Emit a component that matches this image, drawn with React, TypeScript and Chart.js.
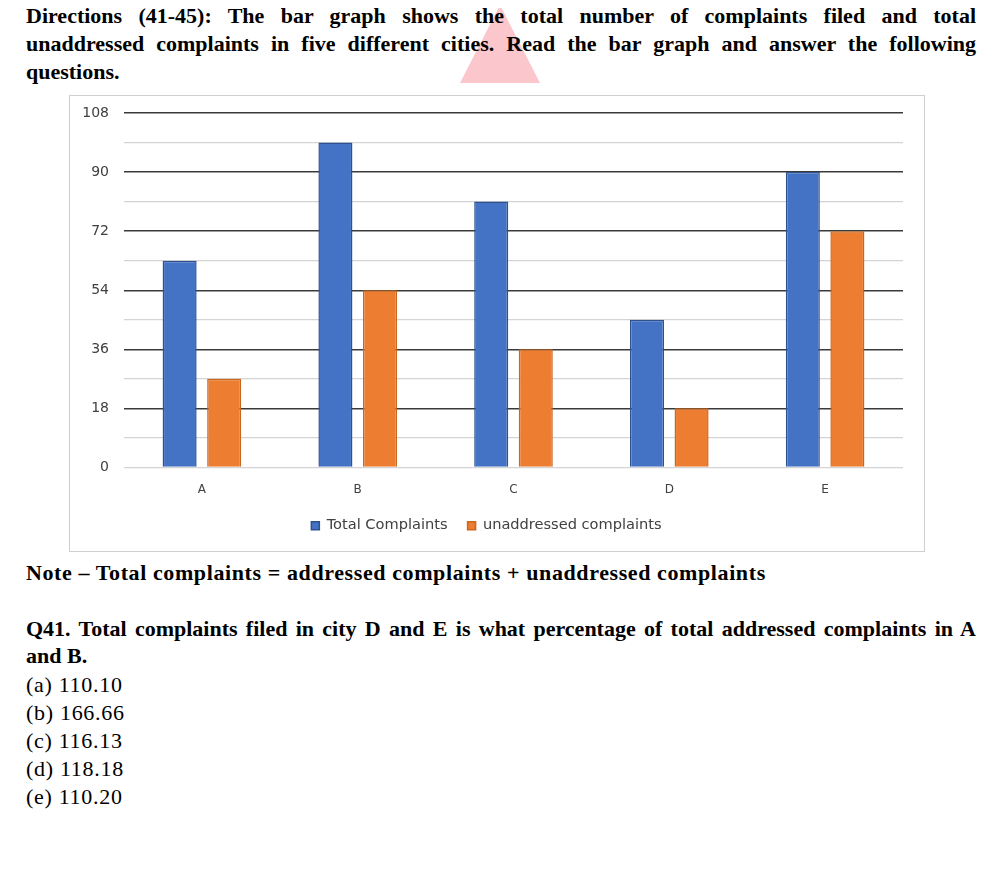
import React, { useEffect, useRef } from "react";
import { Chart, registerables } from "chart.js";

Chart.register(...registerables);

const categories = ["A", "B", "C", "D", "E"];
const totalComplaints = [63, 99, 81, 45, 90];
const unaddressedComplaints = [27, 54, 36, 18, 72];
const yTickLabels = [0, 18, 36, 54, 72, 90, 108];

const headLines = [
  "Directions (41-45): The bar graph shows the total number of complaints filed and total",
  "unaddressed complaints in five different cities. Read the bar graph and answer the following",
  "questions.",
];
const noteLine = "Note \u2013 Total complaints = addressed complaints + unaddressed complaints";
const qLines = [
  "Q41. Total complaints filed in city D and E is what percentage of total addressed complaints in A",
  "and B.",
];
const options = ["(a) 110.10", "(b) 166.66", "(c) 116.13", "(d) 118.18", "(e) 110.20"];

const serif = "'Liberation Serif', 'Times New Roman', serif";

function Line(props: {
  text: string;
  cy: number;
  justify?: boolean;
  bold?: boolean;
  size?: number;
  spacing?: number;
}) {
  const { text, cy, justify, bold = true, size = 22, spacing = 0 } = props;
  return (
    <div
      style={{
        position: "absolute",
        left: 18,
        width: 950,
        top: cy - 14 - 8,
        height: 28,
        lineHeight: "28px",
        fontFamily: serif,
        fontWeight: bold ? 700 : 400,
        fontSize: size,
        letterSpacing: spacing,
        color: "#000",
        whiteSpace: "nowrap",
        textAlign: justify ? "justify" : "left",
        textAlignLast: justify ? "justify" : "left",
      } as React.CSSProperties}
    >
      {text}
    </div>
  );
}

export default function App() {
  const ref = useRef<HTMLCanvasElement | null>(null);

  useEffect(() => {
    if (!ref.current) return;
    const chart = new Chart(ref.current, {
      type: "bar",
      data: {
        labels: categories,
        datasets: [
          {
            label: "Total Complaints",
            data: totalComplaints,
            backgroundColor: "#4472C4",
            borderColor: "#2F528F",
            borderWidth: 1.5,
            categoryPercentage: 0.572,
            barPercentage: 0.764,
          },
          {
            label: "unaddressed complaints",
            data: unaddressedComplaints,
            backgroundColor: "#ED7D31",
            borderColor: "#C9671F",
            borderWidth: 1.5,
            categoryPercentage: 0.572,
            barPercentage: 0.764,
          },
        ],
      },
      options: {
        animation: false,
        responsive: false,
        maintainAspectRatio: false,
        layout: { padding: { left: 0, right: 21, top: 17, bottom: 8 } },
        plugins: {
          tooltip: { enabled: false },
          legend: {
            position: "bottom",
            labels: {
              boxWidth: 8,
              boxHeight: 8,
              color: "#404040",
              font: { family: "'DejaVu Sans'", size: 14.6 },
              padding: 20,
            },
          },
        },
        scales: {
          x: {
            afterFit: (scale: any) => {
              scale.height = 31;
            },
            grid: { display: false },
            border: { display: false },
            ticks: {
              color: "#404040",
              font: { family: "'DejaVu Sans'", size: 12 },
              padding: 7,
            },
          },
          y: {
            min: 0,
            max: 108,
            afterFit: (scale: any) => {
              scale.width = 54;
              scale.paddingTop = 0;
              scale.paddingBottom = 0;
            },
            border: { display: false },
            grid: {
              drawTicks: false,
              color: (ctx: any) => {
                const v = ctx.tick ? ctx.tick.value : 0;
                if (v !== 0 && v % 18 === 0) return "#3a3a3a";
                return "#d4d4d4";
              },
              lineWidth: (ctx: any) => {
                const v = ctx.tick ? ctx.tick.value : 0;
                return v !== 0 && v % 18 === 0 ? 1.4 : 1.2;
              },
            },
            ticks: {
              stepSize: 9,
              color: "#404040",
              font: { family: "'DejaVu Sans'", size: 14 },
              padding: 15,
              callback: (value: any) => (yTickLabels.includes(Number(value)) ? String(value) : ""),
            },
          },
        },
      },
    });
    return () => chart.destroy();
  }, []);

  return (
    <div style={{ position: "relative", width: 982, height: 860 }}>
      <div
        style={{
          position: "absolute",
          left: 460 - 8,
          top: 5 - 8,
          width: 80,
          height: 78,
          background: "#fbc7cc",
          clipPath: "polygon(50% 0%, 100% 100%, 0% 100%)",
        }}
      />
      {headLines.map((t, i) => (
        <Line key={"h" + i} text={t} cy={16 + i * 28} justify={i < 2} />
      ))}
      <div
        style={{
          position: "absolute",
          left: 69 - 8,
          top: 95 - 8,
          width: 854,
          height: 455,
          border: "1px solid #cfcfcf",
          background: "#fff",
        }}
      >
        <canvas ref={ref} width={854} height={455} style={{ display: "block" }} />
      </div>
      <Line text={noteLine} cy={573} spacing={0.6} />
      <Line text={qLines[0]} cy={629} justify />
      <Line text={qLines[1]} cy={656} />
      {options.map((t, i) => (
        <Line key={"o" + i} text={t} cy={685 + i * 28} bold={false} size={22} spacing={0.7} />
      ))}
    </div>
  );
}
